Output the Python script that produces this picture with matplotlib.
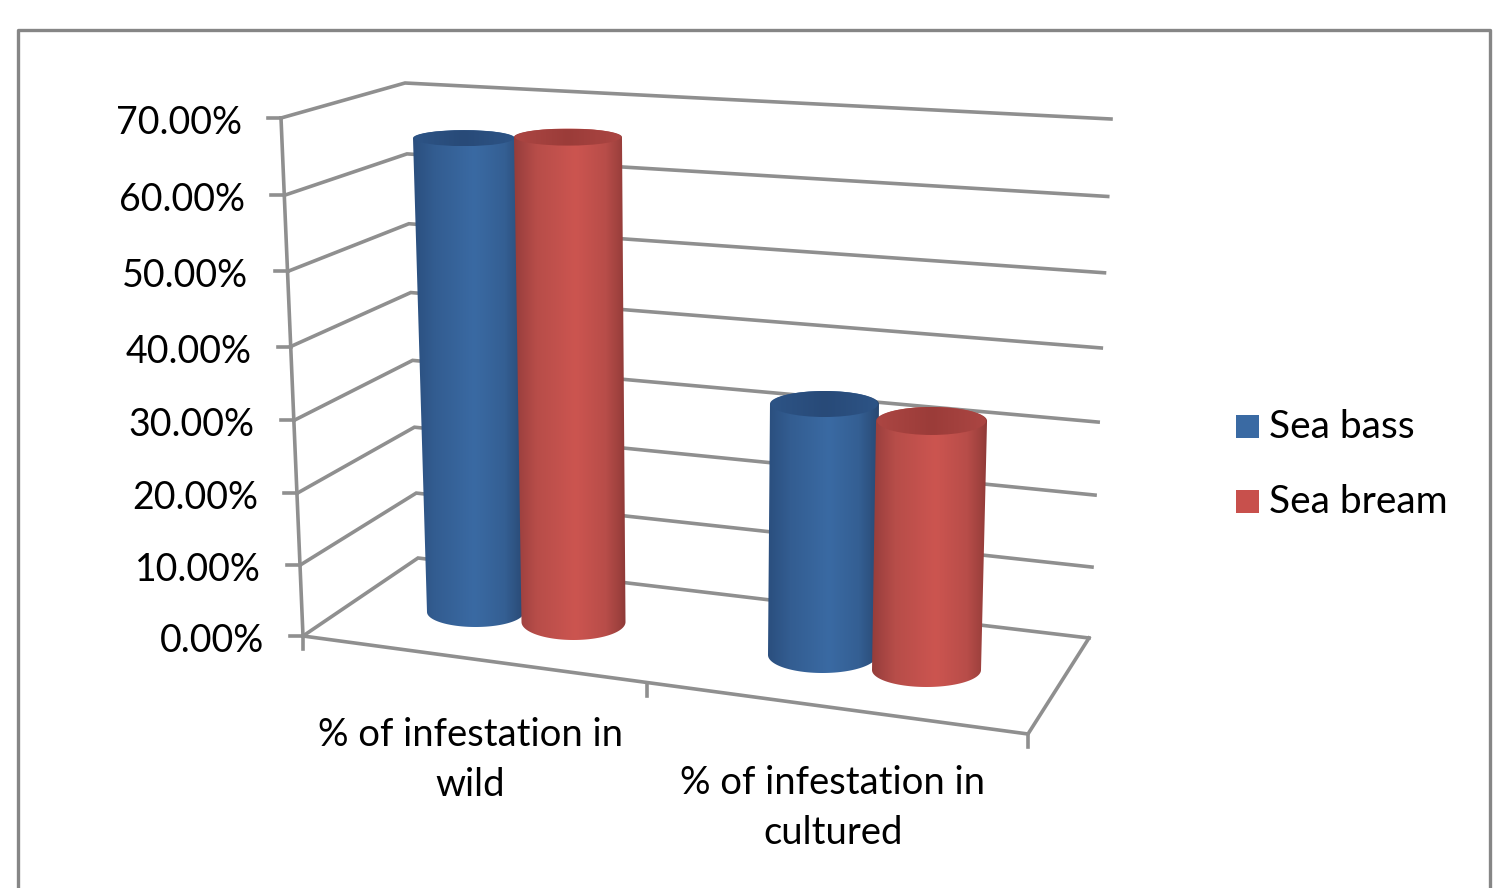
import numpy as np
import matplotlib
matplotlib.use("Agg")
import matplotlib.pyplot as plt
from matplotlib.colors import LinearSegmentedColormap
from matplotlib.patches import Ellipse, Polygon, Rectangle

plt.rcParams['font.family'] = ['Lato', 'DejaVu Sans']

# ---- data (percent) ----
categories = ["% of infestation in\nwild", "% of infestation in\ncultured"]
series_names = ["Sea bass", "Sea bream"]
sea_bass = [65, 33.2]
sea_bream = [65, 32.3]
y_ticks = [0, 10, 20, 30, 40, 50, 60, 70]

# ---- chart box, in image pixels ----
FRONT_LEFT_0 = np.array([303, 636.])
FRONT_LEFT_70 = np.array([281, 118.])
BACK_LEFT_0 = np.array([418, 558.])
BACK_LEFT_70 = np.array([405, 83.])
BACK_RIGHT_0 = np.array([1089, 638.])
BACK_RIGHT_70 = np.array([1111, 119.])
FRONT_RIGHT_0 = np.array([1028, 734.])

GREY = '#8f8f8f'
LW = 2.6
FS = 27.5


def frac(v):
    # slight perspective squeeze on the value axis
    t = v / 70.0
    return 0.95 * t / (1 - t + 0.95 * t)


def on_edge(low, high, v):
    return low + (high - low) * frac(v)


fig = plt.figure(figsize=(14.97, 8.88), dpi=100)
ax = fig.add_axes([0, 0, 1, 1])

# outer chart border runs off the bottom of the image
ax.plot([18, 18, 1490, 1490], [900, 30, 30, 900], color='#868686', lw=2.4)

# walls + gridlines
for v in y_ticks:
    a = on_edge(FRONT_LEFT_0, FRONT_LEFT_70, v)
    b = on_edge(BACK_LEFT_0, BACK_LEFT_70, v)
    c = on_edge(BACK_RIGHT_0, BACK_RIGHT_70, v)
    ax.plot([a[0], b[0], c[0]], [a[1], b[1], c[1]], color=GREY, lw=LW, solid_joinstyle='miter', zorder=1)
    ax.plot([a[0] - 13, a[0]], [a[1], a[1]], color=GREY, lw=LW, zorder=1)
    ax.text(a[0] - 39, a[1] + 5, f"{v:.2f}%", ha='right', va='center', fontsize=27, color='black')

# vertical axis and floor
ax.plot([FRONT_LEFT_0[0], FRONT_LEFT_70[0]], [FRONT_LEFT_0[1], FRONT_LEFT_70[1]], color=GREY, lw=LW, zorder=1)
floor = [FRONT_LEFT_0, FRONT_RIGHT_0, BACK_RIGHT_0]
ax.plot([p[0] for p in floor], [p[1] for p in floor], color=GREY, lw=LW, zorder=1)

# category ticks along the front floor edge
for u in [0, 0.475, 1]:
    p = FRONT_LEFT_0 + (FRONT_RIGHT_0 - FRONT_LEFT_0) * u
    ax.plot([p[0], p[0]], [p[1], p[1] + 13], color=GREY, lw=LW, zorder=1)

# colour ramps across the cylinder, left to right
stops = [0, 0.06, 0.2, 0.55, 0.82, 0.95, 1]
blue_cmap = LinearSegmentedColormap.from_list(
    'blue3d', list(zip(stops, ['#2b4f7e', '#2d5384', '#335d91', '#3a6aa3', '#345f93', '#2c4f7c', '#294871'])))
red_cmap = LinearSegmentedColormap.from_list(
    'red3d', list(zip(stops, ['#953d3a', '#a04240', '#b74d49', '#cc5550', '#b84d49', '#9c403d', '#8d3937'])))
top_blue = LinearSegmentedColormap.from_list('blue_top', ['#2d5486', '#284a78', '#2d5486'])
top_red = LinearSegmentedColormap.from_list('red_top', ['#ac4643', '#9b3c39', '#ac4643'])

# cylinder layout: base centre, base radii, top radii, px per percent
layout = {
    (0, 0): dict(base=(475.5, 612), rb=(48.5, 15), rt=(51, 8), dy=7.29, dx=-0.177),
    (0, 1): dict(base=(573.5, 622), rb=(52, 18), rt=(54, 8.5), dy=7.46, dx=-0.085),
    (1, 0): dict(base=(822.5, 655), rb=(54.5, 18), rt=(54.5, 13), dy=7.56, dx=0.06),
    (1, 1): dict(base=(926.5, 670), rb=(54.5, 17), rt=(55.5, 14), dy=7.71, dx=0.156),
}


def cylinder(value, base, rb, rt, dy, dx, cmap, top_cmap, z):
    cx_top = base[0] + dx * value
    cy_top = base[1] - dy * value
    th = np.linspace(0, np.pi, 80)
    # front arc of the base, then back along the rear arc of the top
    bx = base[0] + rb[0] * np.cos(th[::-1])
    by = base[1] + rb[1] * np.sin(th[::-1])
    tx = cx_top + rt[0] * np.cos(th)
    ty = cy_top - rt[1] * np.sin(th)
    body = Polygon(np.column_stack([np.r_[bx, tx], np.r_[by, ty]]), closed=True,
                   facecolor='none', edgecolor='none', zorder=z)
    ax.add_patch(body)
    left = min(bx.min(), tx.min())
    right = max(bx.max(), tx.max())
    grad = np.linspace(0, 1, 256).reshape(1, -1)
    im = ax.imshow(grad, cmap=cmap, extent=[left, right, base[1] + rb[1], cy_top - rt[1]],
                   aspect='auto', zorder=z)
    im.set_clip_path(body)
    cap = Ellipse((cx_top, cy_top), 2 * rt[0] - 2, 2 * rt[1], facecolor='none', edgecolor='none', zorder=z + 1)
    ax.add_patch(cap)
    im2 = ax.imshow(grad, cmap=top_cmap, extent=[cx_top - rt[0], cx_top + rt[0], cy_top + rt[1], cy_top - rt[1]],
                    aspect='auto', zorder=z + 1)
    im2.set_clip_path(cap)


z = 3
for i in range(len(categories)):
    cylinder(sea_bass[i], cmap=blue_cmap, top_cmap=top_blue, z=z, **layout[(i, 0)])
    cylinder(sea_bream[i], cmap=red_cmap, top_cmap=top_red, z=z + 2, **layout[(i, 1)])
    z += 4

# category labels
label_pos = [(470, 760), (833, 808)]
for lab, (x, y) in zip(categories, label_pos):
    ax.text(x, y, lab, ha='center', va='center', fontsize=FS, linespacing=1.48, color='black')

# legend
legend_y = [426.5, 501.5]
for name, col, y in zip(series_names, ['#3a6aa3', '#c8504c'], legend_y):
    ax.add_patch(Rectangle((1236, y - 11.5), 23, 23, facecolor=col, edgecolor='none'))
    ax.text(1269, y, name, ha='left', va='center', fontsize=FS + 0.5, color='black')

ax.set_xlim(0, 1497)
ax.set_ylim(888, 0)
ax.axis('off')

fig.savefig('out.png', dpi=100, facecolor='white')
